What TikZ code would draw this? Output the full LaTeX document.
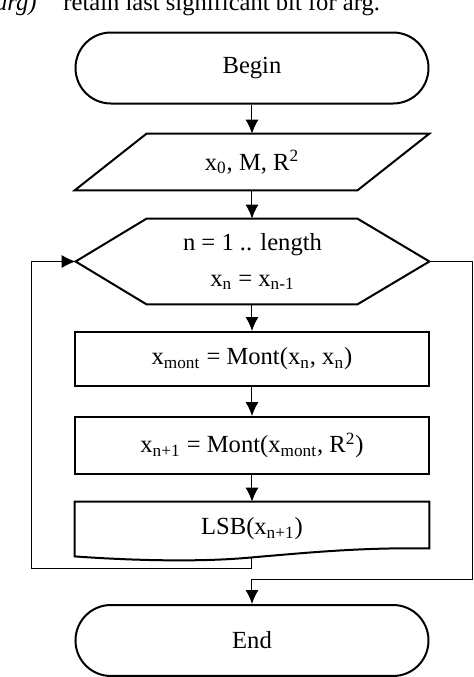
\documentclass[tikz,border=0pt]{standalone}
\usepackage{fontspec}
\setmainfont{Liberation Serif}
\usepackage{tikz}
\usetikzlibrary{
  arrows.meta,
  calc,
  positioning
}
\tikzset{>={Latex[length=7pt,width=6.5pt]}}
\tikzset{font=\fontsize{12.3}{18}\selectfont}
\tikzset{
  shapeline/.style={line width=1pt},
  terminal/.style={draw, shapeline, rectangle, rounded corners=17.7pt,
    minimum width=176.5pt, minimum height=35.5pt},
  blockbox/.style={draw, shapeline, rectangle, minimum width=177pt},
  % outline drawn by hand round the node
  outline/.style={rectangle, minimum width=177pt},
  flow/.style={->, line width=0.5pt}
}

\begin{document}
\begin{tikzpicture}[x=0.5pt, y=0.5pt]
                \useasboundingbox (0,0) rectangle (474,677);%
                \clip (0,0) rectangle (474,677);%
                % caption line, cut off at the top
                \node[anchor=base east, inner sep=0pt] (argtxt) at (37,666.5) {\textit{arg)}};%
                \node[anchor=base west, inner sep=0pt] (captxt) at (63,666.5) {retain last significant bit for arg.};%
                \node[terminal] (begin) at (252,609) {Begin};%
                \node[outline, minimum height=28pt] (input) at (252,515) {x\textsubscript{0}, M, R\textsuperscript{2}};%
                \draw[shapeline] ($(input.north west)+(36pt,0)$) -- (input.north east) -- ($(input.south east)+(-36pt,0)$) -- (input.south west) -- cycle;%
                \node[outline, minimum width=176.5pt, minimum height=42.5pt, align=center] (loop) at (252.5,415.5) {n = 1 .. length\\x\textsubscript{n} = x\textsubscript{n-1}};%
                \draw[shapeline] (loop.west) -- ($(loop.north west)+(35.5pt,0)$) -- ($(loop.north east)+(-36pt,0)$) -- (loop.east) -- ($(loop.south east)+(-36pt,0)$) -- ($(loop.south west)+(35.5pt,0)$) -- cycle;%
                \node[blockbox, minimum height=27pt] (mont) at (252,318) {x\textsubscript{mont} = Mont(x\textsubscript{n}, x\textsubscript{n})};%
                \node[blockbox, minimum height=28.5pt] (next) at (252,231.5) {x\textsubscript{n+1} = Mont(x\textsubscript{mont}, R\textsuperscript{2})};%
                \node[outline, minimum height=27pt] (lsb) at (252,148) {LSB(x\textsubscript{n+1})};%
                \coordinate (lsbout) at ($(lsb.south)+(0,-0.5pt)$);%
                \draw[shapeline] (lsb.north west) -- (lsb.north east) -- ($(lsb.south east)+(0,4pt)$) .. controls +(-34pt,0.5pt) and +(29pt,2.5pt) .. (lsbout) .. controls +(-26pt,-2.5pt) and +(27.5pt,-2pt) .. (lsb.south west) -- cycle;%
                \node[terminal] (end) at (252,36.5) {End};%
                % connectors
                \coordinate (back) at (32,109);%
                \coordinate (out) at (473,98);%
                \draw[flow] (begin.south) -- (input.north);%
                \draw[flow] (input.south) -- (input.south |- loop.north);%
                \draw[flow] (loop.south -| mont.north) -- (mont.north);%
                \draw[flow] (mont.south) -- (next.north);%
                \draw[flow] (next.south) -- (lsb.north);%
                \draw[flow] (lsbout) |- (back) |- (loop.west);%
                \draw[flow] (loop.east) -| (out) -| (end.north);%
              \end{tikzpicture}
\end{document}
